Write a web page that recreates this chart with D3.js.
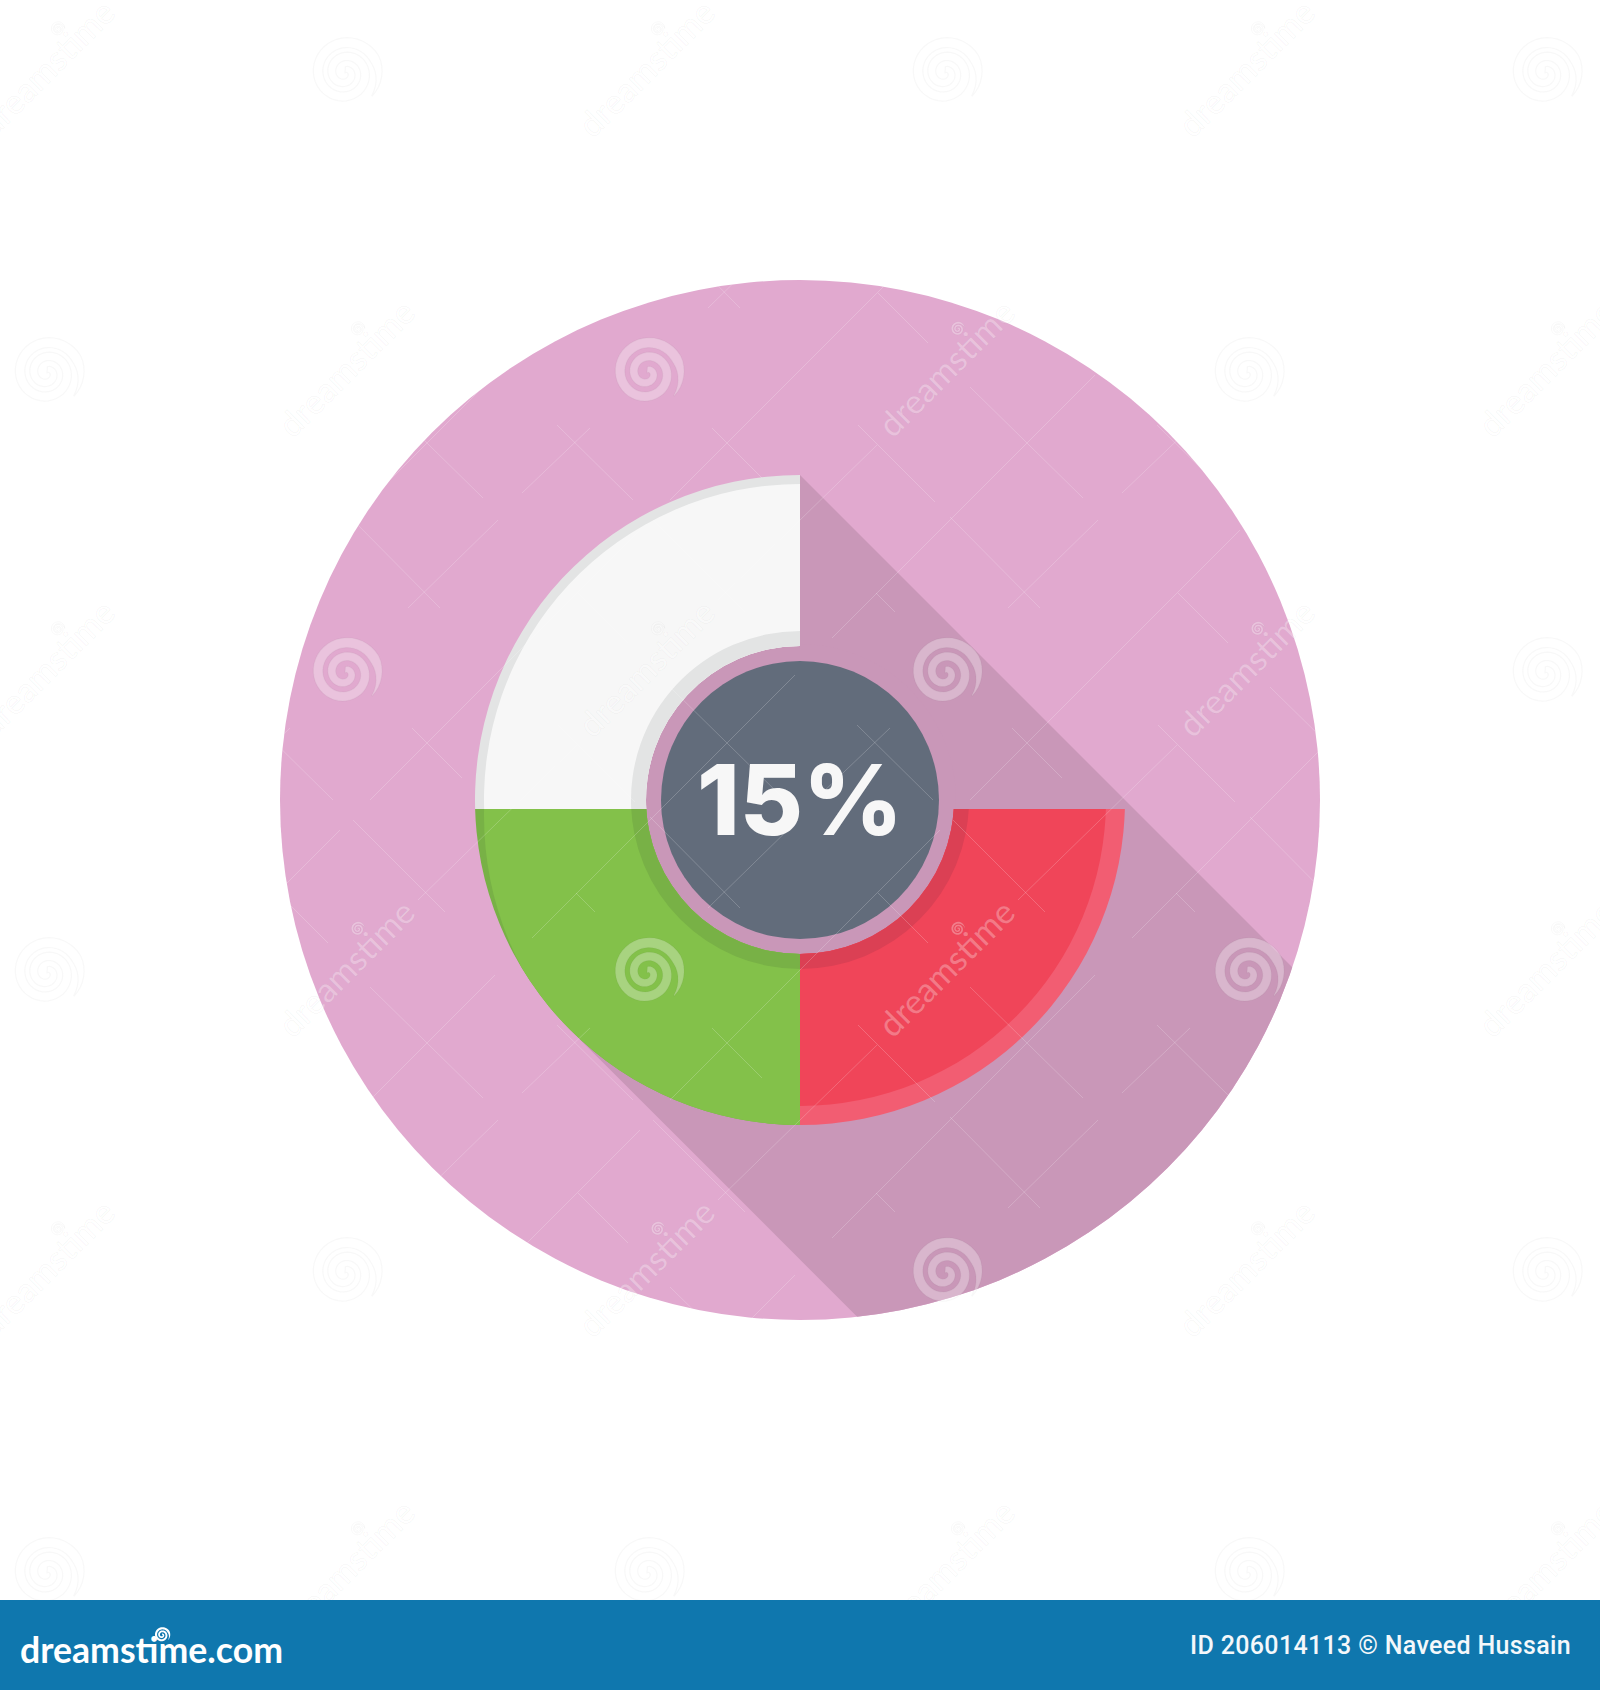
<!DOCTYPE html>
<html>
<head>
<meta charset="utf-8">
<script src="https://cdn.jsdelivr.net/npm/d3@7"></script>
<style>
  html, body { margin: 0; padding: 0; background: #fff; }
  svg { display: block; }
</style>
</head>
<body>
<svg id="chart"></svg>
<script>
// chart values
const sectorNames = ['red', 'green', 'white', 'open'];
const sectorShares = [25, 25, 25, 25];
const centerLabel = '15%';
const brandLabel = 'dreamstime.com';
const markLabel = 'dreamstime';
const creditLabel = 'ID 206014113 © Naveed Hussain';

const width = 1600;
const height = 1690;
const cx = 800;
const cy = 800;
const discR = 520;
const outerR = 325;
const innerR = 154;
const hubR = 139;
const seamY = 809; // the quadrants meet slightly under the centre

const svg = d3.select('#chart').attr('width', width).attr('height', height);
const defs = svg.append('defs');

const fillColor = d3.scaleOrdinal().domain(sectorNames).range(['#f04559', '#83c14a', '#f7f7f7', 'none']);
const rimColor = d3.scaleOrdinal().domain(sectorNames).range(['#f25d72', '#78b146', '#e3e4e4', 'none']);
const innerColor = d3.scaleOrdinal().domain(sectorNames).range(['#db4054', '#78b146', '#e3e4e4', 'none']);

const pie = d3.pie().sort(null).value(d => d.share)
  .startAngle(Math.PI / 2).endAngle(Math.PI * 2.5);
const slices = pie(sectorNames.map((name, i) => ({ name, share: sectorShares[i] })))
  .filter(s => s.data.name !== 'open');

// white runs a little past 270deg so it reaches the seam, the lower two get cut at it
const whiteStretch = 0.07;
const sliceArc = (s, r0, r1) => d3.arc()({
  innerRadius: r0,
  outerRadius: r1,
  startAngle: s.data.name === 'white' ? s.startAngle - whiteStretch : s.startAngle,
  endAngle: s.endAngle
});

defs.append('clipPath').attr('id', 'disc-clip')
  .append('circle').attr('cx', cx).attr('cy', cy).attr('r', discR);
defs.append('clipPath').attr('id', 'above-seam')
  .append('rect').attr('x', 0).attr('y', 0).attr('width', width).attr('height', seamY);
defs.append('clipPath').attr('id', 'below-seam')
  .append('rect').attr('x', 0).attr('y', seamY).attr('width', width).attr('height', height - seamY);
defs.append('clipPath').attr('id', 'green-clip')
  .append('path').attr('transform', `translate(${cx},${cy})`)
  .attr('d', sliceArc(slices[1], innerR, outerR));

svg.append('circle').attr('cx', cx).attr('cy', cy).attr('r', discR).attr('fill', '#e1a9cf');

// long 45deg shadow, between the two tangents of the ring
const reach = 1200;
const tangent = outerR * Math.SQRT1_2;
const shadowPoints = [
  [cx, cy - outerR],
  [cx + reach, cy - outerR + reach],
  [cx - tangent + reach, cy + tangent + reach],
  [cx - tangent, cy + tangent]
];
svg.append('path')
  .attr('clip-path', 'url(#disc-clip)')
  .attr('d', d3.line()(shadowPoints) + 'Z')
  .attr('fill', '#c997b8');
svg.append('circle').attr('cx', cx).attr('cy', cy).attr('r', innerR + 2).attr('fill', '#c997b8');

// clip paths work in page coordinates here, so wrap each slice in a page level group
const seamClip = d => d.data.name === 'white' ? 'url(#above-seam)' : 'url(#below-seam)';
const sliceG = svg.selectAll('g.slice').data(slices).join('g')
  .attr('class', 'slice')
  .attr('clip-path', seamClip);

sliceG.append('path')
  .attr('transform', `translate(${cx},${cy})`)
  .attr('d', d => sliceArc(d, innerR, outerR))
  .attr('fill', d => rimColor(d.data.name));

sliceG.filter(d => d.data.name !== 'green').append('path')
  .attr('transform', `translate(${cx},${cy})`)
  .attr('d', d => sliceArc(d, innerR, d.data.name === 'red' ? 306 : 316))
  .attr('fill', d => fillColor(d.data.name));

// green rim is a crescent: a shifted circle leaves it thick on the left, gone at the bottom
sliceG.filter(d => d.data.name === 'green').append('circle')
  .attr('clip-path', 'url(#green-clip)')
  .attr('cx', cx + 9).attr('cy', cy + 16).attr('r', outerR)
  .attr('fill', fillColor('green'));

sliceG.append('path')
  .attr('transform', `translate(${cx},${cy})`)
  .attr('d', d => sliceArc(d, innerR, 169))
  .attr('fill', d => innerColor(d.data.name));

svg.append('circle').attr('cx', cx).attr('cy', cy).attr('r', hubR).attr('fill', '#626c7b');

svg.append('text')
  .attr('x', cx).attr('y', 835)
  .attr('text-anchor', 'middle')
  .attr('font-family', 'Inter')
  .attr('font-weight', 800)
  .attr('font-size', 98)
  .attr('textLength', 206)
  .attr('lengthAdjust', 'spacingAndGlyphs')
  .attr('fill', '#f7f7f7')
  .text(centerLabel);

// ---- stock photo watermark, repeats on a 300/300 diagonal lattice ----
const crossLines = [
  [970, 800, 1240, 530], [1018, 900, 1177, 745], [832, 638, 1095, 375],
  [822, 793, 890, 728], [1008, 608, 1098, 520],
  [878, 293, 928, 343], [970, 387, 1083, 498], [858, 425, 935, 502],
  [950, 517, 1040, 608], [876, 593, 895, 612], [1012, 728, 1062, 778],
  [857, 725, 933, 800], [953, 820, 1045, 912]
];
const lattice = [];
d3.range(-4, 5).forEach(i => d3.range(-4, 5).forEach(j => {
  lattice.push([300 * (i + j), 300 * (i - j)]);
}));
const lineG = svg.append('g').attr('clip-path', 'url(#disc-clip)');
lattice.forEach(([dx, dy]) => {
  lineG.selectAll(null).data(crossLines).join('line')
    .attr('x1', d => d[0] + dx).attr('y1', d => d[1] + dy)
    .attr('x2', d => d[2] + dx).attr('y2', d => d[3] + dy)
    .attr('stroke', '#fff').attr('stroke-opacity', 0.2).attr('stroke-width', 1);
});

// swirl logo as a tapered band that winds inward, counter-clockwise on screen
function swirlPath(size) {
  const ts = d3.range(0, 1.0001, 0.01);
  const startA = 40 * Math.PI / 180;
  const turns = 2.35;
  const pt = (t, off) => {
    const a = startA - t * turns * 2 * Math.PI;
    const mid = size * (0.98 - 0.9 * t);
    const w = size * (0.29 - 0.1 * t) * Math.min(1, t / 0.08 + 0.05);
    const r = mid + off * w / 2;
    return [r * Math.cos(a), r * Math.sin(a)];
  };
  return d3.line()([...ts.map(t => pt(t, 1)), ...ts.slice().reverse().map(t => pt(t, -1))]) + 'Z';
}

const markG = svg.append('g');
const rows = [70, 370, 670, 970, 1270, 1570];
const spots = [];
rows.forEach((y, r) => {
  const sx = r % 2 ? 50 : 348;
  const tx = r % 2 ? 348 : 48;
  [0, 600, 1200].forEach(step => {
    spots.push({ kind: 'swirl', x: sx + step - 3, y: y + 3 });
    spots.push({ kind: 'word', x: tx + step, y });
  });
});
const swirlD = swirlPath(36);
const dotD = swirlPath(7);
const markFill = 'rgba(255,255,255,0.3)';
const markEdge = 'rgba(90,90,90,0.045)';

markG.selectAll('path.swirl').data(spots.filter(d => d.kind === 'swirl')).join('path')
  .attr('class', 'swirl')
  .attr('transform', d => `translate(${d.x},${d.y})`)
  .attr('d', swirlD)
  .attr('fill', markFill).attr('stroke', markEdge).attr('stroke-width', 1.2);

const words = markG.selectAll('g.word').data(spots.filter(d => d.kind === 'word')).join('g')
  .attr('class', 'word')
  .attr('transform', d => `translate(${d.x},${d.y}) rotate(-45)`);
words.append('text')
  .attr('text-anchor', 'middle')
  .attr('y', 10)
  .attr('font-family', 'Lato')
  .attr('font-weight', 400)
  .attr('font-size', 34)
  .attr('textLength', 176)
  .attr('lengthAdjust', 'spacingAndGlyphs')
  .attr('fill', markFill).attr('stroke', markEdge).attr('stroke-width', 1)
  .text(markLabel);
words.append('path')
  .attr('transform', 'translate(36,-22)')
  .attr('d', dotD)
  .attr('fill', markFill).attr('stroke', markEdge).attr('stroke-width', 0.8);

// footer bar
svg.append('rect').attr('x', 0).attr('y', 1600).attr('width', width).attr('height', 90).attr('fill', '#0f77ae');
svg.append('text')
  .attr('x', 20).attr('y', 1663)
  .attr('font-family', 'Lato')
  .attr('font-weight', 700)
  .attr('font-size', 36)
  .attr('textLength', 263)
  .attr('lengthAdjust', 'spacingAndGlyphs')
  .attr('fill', '#fff')
  .text(brandLabel);
svg.append('path')
  .attr('transform', 'translate(162,1635)')
  .attr('d', swirlPath(8))
  .attr('fill', '#fff');
svg.append('text')
  .attr('x', 1571).attr('y', 1654)
  .attr('text-anchor', 'end')
  .attr('font-family', 'Roboto')
  .attr('font-weight', 500)
  .attr('font-size', 25)
  .attr('letter-spacing', 0.34)
  .attr('fill', '#f4f8fb')
  .text(creditLabel);
</script>
</body>
</html>
